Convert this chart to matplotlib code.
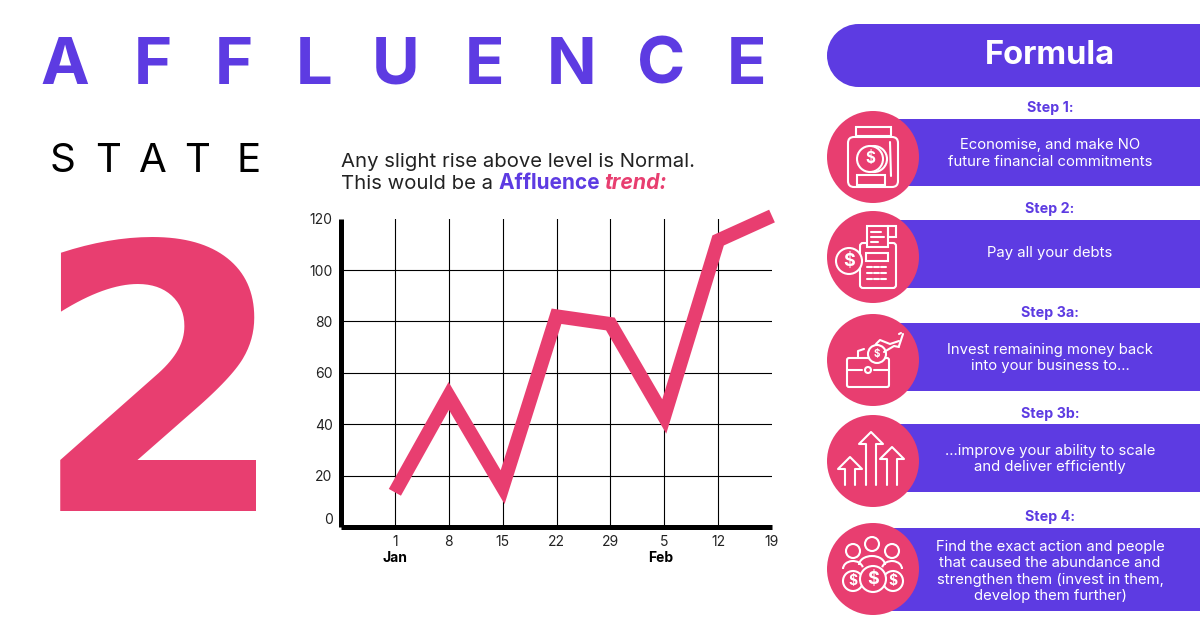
import matplotlib
matplotlib.use('Agg')
import matplotlib.pyplot as plt
from matplotlib.patches import Circle, Rectangle, FancyBboxPatch, Arc

plt.rcParams['font.family'] = ['Inter', 'DejaVu Sans']

PURPLE = '#5d3be2'
PINK = '#e83e70'

# chart values
week_labels = ['1', '8', '15', '22', '29', '5', '12', '19']
trend = [13.5, 51, 15.5, 82, 79, 43, 111.5, 121]
y_ticks = [0, 20, 40, 60, 80, 100, 120]
month_labels = ['Jan', 'Feb']

# right hand panel
step_titles = ['Step 1:', 'Step 2:', 'Step 3a:', 'Step 3b:', 'Step 4:']
step_texts = ['Economise, and make NO\nfuture financial commitments',
              'Pay all your debts',
              'Invest remaining money back\ninto your business to...',
              '...improve your ability to scale\nand deliver efficiently',
              'Find the exact action and people\nthat caused the abundance and\nstrengthen them (invest in them,\ndevelop them further)']
title_letters = list('AFFLUENCE')
state_letters = list('STATE')

fig = plt.figure(figsize=(12, 6.28), dpi=100)

# background axes in pixel coordinates, y goes down
bg = fig.add_axes([0, 0, 1, 1])
bg.set_xlim(0, 1200)
bg.set_ylim(628, 0)
bg.axis('off')

title_x = [40, 134, 215, 296, 372, 465, 547, 637, 727]
for letter, px in zip(title_letters, title_x):
    bg.text(px, 84, letter, color=PURPLE, fontsize=47, fontweight='bold', ha='left', va='baseline')

state_x = [50, 95, 139, 184, 237]
for letter, px in zip(state_letters, state_x):
    bg.text(px, 172, letter, color='black', fontsize=29, ha='left', va='baseline')

bg.text(159.5, 511, '2', color=PINK, fontsize=266, fontweight='bold', family='DejaVu Sans', ha='center', va='baseline')

# heading above the chart, second line is built from three pieces
bg.text(341, 167, 'Any slight rise above level is Normal.', fontsize=14.6, color='#222222', va='baseline')
renderer = fig.canvas.get_renderer()
cur = 341
for txt, col, wt, st, fs in [('This would be a ', '#222222', 'normal', 'normal', 14.6),
                             ('Affluence ', PURPLE, 'bold', 'normal', 15),
                             ('trend:', PINK, 'bold', 'italic', 15.3)]:
    t = bg.text(cur, 189, txt.replace(' ', '\u00a0'), fontsize=fs, color=col, fontweight=wt, fontstyle=st, va='baseline')
    cur = bg.transData.inverted().transform(t.get_window_extent(renderer))[1][0]

# formula header
bg.add_patch(Circle((858.5, 55.5), 31.5, color=PURPLE, lw=0))
bg.add_patch(Rectangle((858, 24), 342, 63, color=PURPLE, lw=0))
bg.text(1050, 56, 'Formula', color='white', fontsize=23.5, fontweight='bold', ha='center', va='center')

band_top = [119, 220, 323, 424, 528]
band_bot = [186, 288, 391, 492, 611]
title_y = [108, 209, 313, 414, 517]
circle_y = [157, 257, 360, 461, 569]
text_shift = [1, -1, 1, 1, 2]
for i in range(5):
    bg.add_patch(Rectangle((880, band_top[i]), 320, band_bot[i] - band_top[i], color=PURPLE, lw=0))
    bg.add_patch(Circle((873, circle_y[i]), 46, color=PINK, lw=0, zorder=3))
    bg.text(1050, title_y[i], step_titles[i], color=PURPLE, fontsize=10.3, fontweight='bold', ha='center', va='center')
    bg.text(1050, (band_top[i] + band_bot[i]) / 2 + text_shift[i], step_texts[i], color='white', fontsize=10.7,
            ha='center', va='center', linespacing=1.22)


# icon helpers
LW = 1.5
def box(x0, y0, x1, y1, r=0, fill='none'):
    if r:
        p = FancyBboxPatch((x0, y0), x1 - x0, y1 - y0, boxstyle='round,pad=0,rounding_size=%g' % r,
                           fc=fill, ec='white', lw=LW, zorder=4)
    else:
        p = Rectangle((x0, y0), x1 - x0, y1 - y0, fc=fill, ec='white', lw=LW, zorder=4)
    bg.add_patch(p)

def coin(x, y, r, size=9, fill=PINK):
    bg.add_patch(Circle((x, y), r, fc=fill, ec='white', lw=LW, zorder=4))
    bg.text(x, y, '$', color='white', fontsize=size, fontweight='bold', ha='center', va='center', zorder=5)

def poly(xs, ys):
    bg.plot(xs, ys, color='white', lw=LW, zorder=4, solid_capstyle='round')

# jar
box(856, 127, 891, 136)
box(848, 137, 898, 187, r=6)
bg.add_patch(Circle((874, 159), 13, fc=PINK, ec='white', lw=LW, zorder=4))
coin(870, 159, 13, 11)
box(857, 175, 885, 185, fill=PINK)
poly([890, 891], [142, 176])

# receipt machine
box(860, 243, 896, 288, r=3)
box(867, 226, 888, 247, fill=PINK)
box(888, 226, 896, 237)
poly([871, 881], [232, 232])
poly([871, 884], [237, 237])
poly([871, 878], [242, 242])
box(866, 253, 888, 261)
for ky in [267, 273, 279]:
    for kx in [867, 874, 881]:
        poly([kx, kx + 5], [ky, ky])
coin(849, 261, 13, 13)

# briefcase and hand
box(847, 358, 889, 387, r=2)
poly([847, 862], [370, 370])
poly([874, 889], [370, 370])
bg.add_patch(Circle((868, 370), 3, fc=PINK, ec='white', lw=LW, zorder=4))
poly([858, 858, 864], [358, 351, 349])
coin(877, 354, 9, 7)
poly([876, 880, 890, 899], [344, 340, 344, 341])
poly([884, 894, 899], [352, 346, 347])
poly([899, 903], [346, 334])
poly([899, 901], [334, 333])

# arrows
for ax_x, tip, hw in [(850, 457, 12), (871, 432, 12), (892, 447, 12)]:
    poly([ax_x - 5, ax_x - 5, ax_x - hw, ax_x, ax_x + hw, ax_x + 5, ax_x + 5],
         [485, tip + hw, tip + hw, tip, tip + hw, tip + hw, 485])

# people and coins
for hx, hy in [(853, 551), (872, 544), (892, 551)]:
    bg.add_patch(Circle((hx, hy), 7, fc='none', ec='white', lw=LW, zorder=4))
bg.add_patch(Arc((853, 569), 20, 16, theta1=180, theta2=350, ec='white', lw=LW, zorder=4))
bg.add_patch(Arc((892, 569), 20, 16, theta1=190, theta2=360, ec='white', lw=LW, zorder=4))
bg.add_patch(Arc((872, 565), 26, 18, theta1=180, theta2=360, ec='white', lw=LW, zorder=4))
coin(853, 581, 10, 10)
coin(893, 581, 10, 10)
coin(873, 579, 13, 13)

# the chart
ax = fig.add_axes([341 / 1200, (628 - 527) / 628, 431 / 1200, (527 - 218.6) / 628])
ax.patch.set_alpha(0)
x = list(range(len(week_labels)))
ax.plot(x, trend, color=PINK, lw=10, solid_joinstyle='miter', solid_capstyle='butt', clip_on=False, zorder=5)
ax.set_xlim(-1, 7)
ax.set_ylim(0, 120)
ax.set_xticks(x)
ax.set_xticklabels(week_labels, fontsize=10, color='#222222')
ax.set_yticks(y_ticks)
ax.tick_params(axis='y', length=0, pad=6, labelsize=10, labelcolor='#222222')
ax.tick_params(axis='x', length=0, pad=6)
ax.get_yticklabels()[0].set_va('bottom')
ax.grid(True, color='black', lw=0.8)
ax.get_ygridlines()[-1].set_visible(False)
ax.get_xgridlines()[-1].set_visible(False)
for s in ['top', 'right']:
    ax.spines[s].set_visible(False)
for s in ['left', 'bottom']:
    ax.spines[s].set_linewidth(3.6)
    ax.spines[s].set_capstyle('butt')
ax.set_axisbelow(True)

for label, pos in zip(month_labels, [0, 4.94]):
    ax.text(pos, -12, label, fontsize=10, fontweight='bold', ha='center', va='center', color='black')

fig.savefig('out.png', dpi=100)
